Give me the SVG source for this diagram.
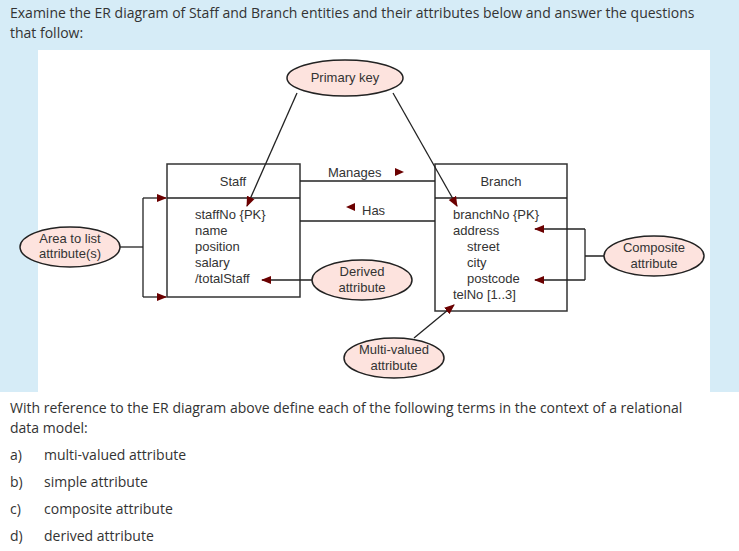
<svg xmlns="http://www.w3.org/2000/svg" width="739" height="551" viewBox="0 0 739 551">
<defs>
<style>
.q{font-family:"Open Sans","Liberation Sans",sans-serif;font-size:14px;fill:#333}
.d{font-family:"Liberation Sans",Arial,sans-serif;font-size:13px;fill:#333}
.box{fill:#fff;stroke:#333;stroke-width:1.5}
.ell{fill:#fde3de;stroke:#222;stroke-width:1.5}
.ln{fill:none;stroke:#222;stroke-width:1.3}
</style>
<marker id="ah" viewBox="0 0 10 10" refX="9" refY="5" markerWidth="8" markerHeight="8" orient="auto"><path d="M0,1 L10,5 L0,9 z" fill="#6b0000"/></marker>
</defs>
<rect width="739" height="551" fill="#fff"/>
<rect x="0" y="0" width="739" height="392" fill="#d6ecf7"/>
<rect x="38" y="50" width="672" height="342" fill="#fff"/>
<text class="q" x="10" y="18">Examine the ER diagram of Staff and Branch entities and their attributes below and answer the questions</text>
<text class="q" x="10" y="38">that follow:</text>
<g id="staff">
<rect class="box" x="167" y="164" width="133" height="133"/>
<line class="ln" x1="167" y1="198" x2="300" y2="198"/>
<text class="d" x="233" y="186" text-anchor="middle">Staff</text>
<text class="d" x="195" y="219">staffNo {PK}</text>
<text class="d" x="195" y="235">name</text>
<text class="d" x="195" y="251">position</text>
<text class="d" x="195" y="267">salary</text>
<text class="d" x="195" y="283">/totalStaff</text>
</g>
<g id="branch">
<rect class="box" x="435" y="164" width="132" height="147"/>
<line class="ln" x1="435" y1="198" x2="567" y2="198"/>
<text class="d" x="501" y="186" text-anchor="middle">Branch</text>
<text class="d" x="453" y="219">branchNo {PK}</text>
<text class="d" x="453" y="235">address</text>
<text class="d" x="467" y="251">street</text>
<text class="d" x="467" y="267">city</text>
<text class="d" x="467" y="283">postcode</text>
<text class="d" x="453" y="299">telNo [1..3]</text>
</g>
<g id="connectors">
<path class="ln" d="M297,93 L247,206" marker-end="url(#ah)"/>
<path class="ln" d="M393,93 L457,206" marker-end="url(#ah)"/>
<path class="ln" d="M300,181 H435"/>
<path class="ln" d="M300,221 H435"/>
<path class="ln" d="M120,247 H143"/>
<path class="ln" d="M143,198 V297"/>
<path class="ln" d="M143,198 H166" marker-end="url(#ah)"/>
<path class="ln" d="M143,297 H166" marker-end="url(#ah)"/>
<path class="ln" d="M312,280 H262" marker-end="url(#ah)"/>
<path class="ln" d="M604,256 H585 M585,229 V280"/>
<path class="ln" d="M585,229 H535" marker-end="url(#ah)"/>
<path class="ln" d="M585,280 H535" marker-end="url(#ah)"/>
<path class="ln" d="M414,338 L454,305" marker-end="url(#ah)"/>
</g>
<g id="rel-labels">
<text class="d" x="328" y="177">Manages</text>
<path d="M395,168 L404,172 L395,176 z" fill="#6b0000"/>
<path d="M355,211 L346,207 L355,203 z" fill="#6b0000"/>
<text class="d" x="362" y="215">Has</text>
</g>
<g id="primary-key"><ellipse class="ell" cx="345" cy="78" rx="58" ry="18"/><text class="d" x="345" y="82" text-anchor="middle">Primary key</text></g>
<g id="area"><ellipse class="ell" cx="70" cy="247" rx="50" ry="20"/><text class="d" x="70" y="243" text-anchor="middle">Area to list</text><text class="d" x="70" y="258" text-anchor="middle">attribute(s)</text></g>
<g id="derived"><ellipse class="ell" cx="362" cy="280" rx="50" ry="20"/><text class="d" x="362" y="276" text-anchor="middle">Derived</text><text class="d" x="362" y="292" text-anchor="middle">attribute</text></g>
<g id="composite"><ellipse class="ell" cx="654" cy="256" rx="50" ry="20"/><text class="d" x="654" y="252" text-anchor="middle">Composite</text><text class="d" x="654" y="268" text-anchor="middle">attribute</text></g>
<g id="multi"><ellipse class="ell" cx="394" cy="358" rx="50" ry="20"/><text class="d" x="394" y="354" text-anchor="middle">Multi-valued</text><text class="d" x="394" y="370" text-anchor="middle">attribute</text></g>
<text class="q" x="10" y="413">With reference to the ER diagram above define each of the following terms in the context of a relational</text>
<text class="q" x="10" y="433">data model:</text>
<text class="q" x="10" y="460">a)</text><text class="q" x="44" y="460">multi-valued attribute</text>
<text class="q" x="10" y="487">b)</text><text class="q" x="44" y="487">simple attribute</text>
<text class="q" x="10" y="514">c)</text><text class="q" x="44" y="514">composite attribute</text>
<text class="q" x="10" y="541">d)</text><text class="q" x="44" y="541">derived attribute</text>
</svg>
